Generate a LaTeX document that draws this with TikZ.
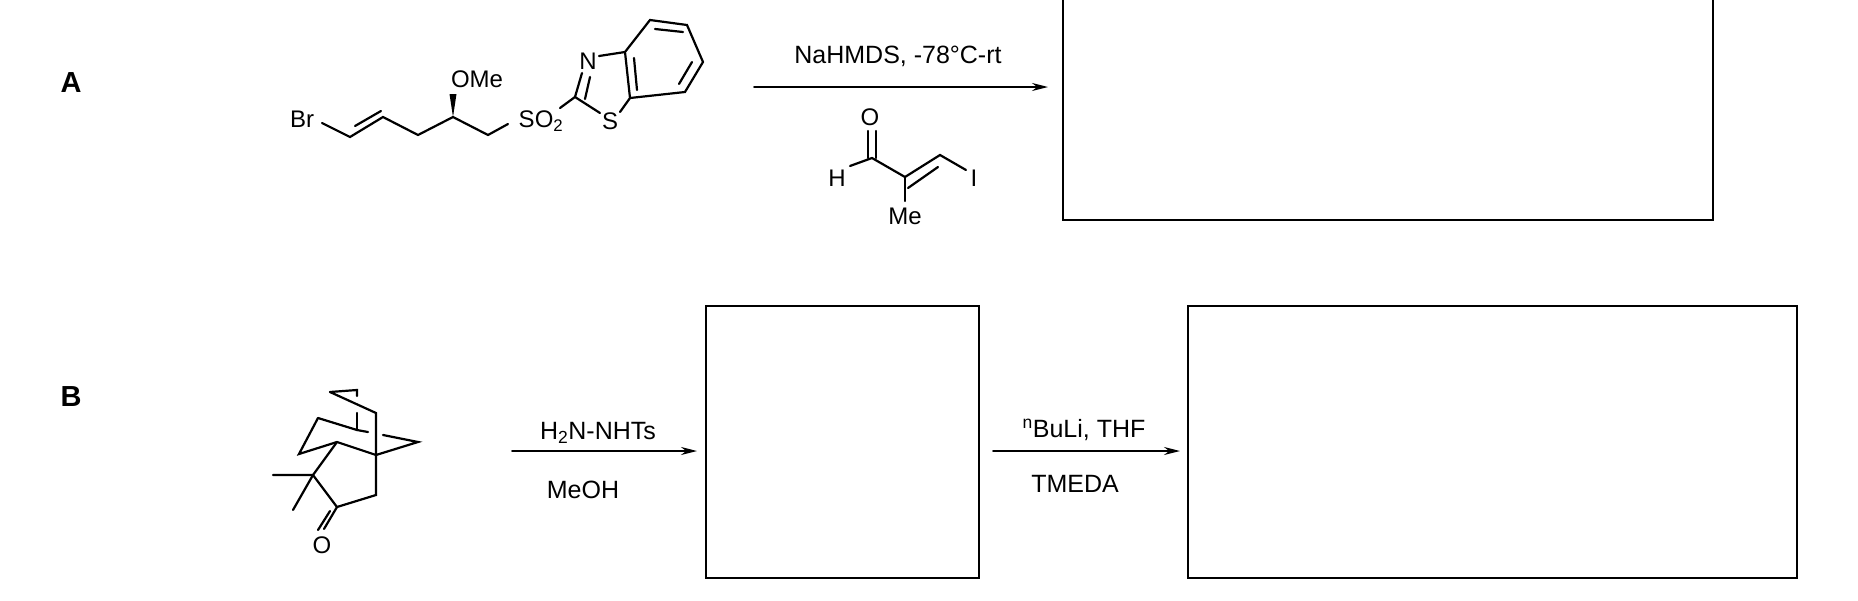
\documentclass[tikz,border=0pt]{standalone}
\usepackage{fontspec}
\setmainfont{Liberation Sans}
\usetikzlibrary{arrows.meta}
\begin{document}
\begin{tikzpicture}[x=1pt,y=-1pt,line width=2.2pt,line cap=round,
  lbl/.style={font=\fontsize{25}{29}\selectfont,inner sep=0pt},
  atom/.style={font=\fontsize{24}{28}\selectfont,inner sep=0pt},
  big/.style={font=\fontsize{29}{33}\selectfont\bfseries,inner sep=0pt},
  rxn/.style={line width=1.8pt,-{Stealth[length=16pt,width=8pt]}},
  box/.style={draw,line width=2.2pt}]
\useasboundingbox (0,0) rectangle (1858,600);
\node[big] (A) at (71,83) {A};
\node[big] (B) at (71,397) {B};
% ---- molecule A
\node[atom] (Br) at (302,119) {Br};
\draw (322,123) -- (350,137) -- (383,117) -- (418,135) -- (453,117) -- (488,135) -- (508,124);
\draw (355,126) -- (381,111);
\fill (453,117) -- (449.5,94) -- (456.5,94) -- cycle;
\node[atom] (OMe) at (477,79) {OMe};
\node[atom] (SO) at (541,121) {SO\textsubscript{2}};
\draw (560,108) -- (575,97) -- (600,113);
\draw (575,97) -- (582,73);
\draw (585,99) -- (590,77);
\node[atom] (N) at (588,61) {N};
\node[atom] (S) at (610,121) {S};
\draw (599,56) -- (625,52) -- (650,20) -- (687,25) -- (703,62) -- (685,92) -- (630,98) -- (625,52);
\draw (620,112) -- (630,98);
\draw (655,29) -- (683,32);
\draw (692,62) -- (679,84);
\draw (634,58) -- (637,90);
% ---- arrow A
\coordinate (a1) at (754,87); \coordinate (a2) at (1048,87);
\draw[rxn] (a1) -- (a2);
\node[lbl] (rA) at (898,56) {NaHMDS, -78°C-rt};
% aldehyde
\node[atom] (O2) at (870,117) {O};
\node[atom] (H) at (837,178) {H};
\node[atom] (I) at (974,178) {I};
\node[atom] (Me) at (905,216) {Me};
\draw (868,131) -- (868,158); \draw (876,131) -- (876,158);
\draw (850,166) -- (872,158) -- (905,177) -- (940,155) -- (966,170);
\draw (908,188) -- (938,167);
\draw (905,177) -- (905,201);
\node[box,minimum width=650pt,minimum height=230pt,anchor=south west] (bA) at (1062,221) {};
% ---- molecule B
\draw (330,392) -- (357,390) -- (357,396);
\draw (330,392) -- (376,413) -- (376,455);
\draw (357,413) -- (357,430);
\draw (318,418) -- (357,430) -- (368,432);
\draw (318,418) -- (299,454) -- (337,442) -- (376,455) -- (418,442) -- (383,435);
\draw (337,442) -- (313,475) -- (273,475);
\draw (313,475) -- (293,510);
\draw (313,475) -- (337,507) -- (376,495) -- (376,455);
\draw (337,507) -- (324,529); \draw (330,511) -- (318,530);
\node[atom] (O3) at (322,545) {O};
% arrows B
\coordinate (b1) at (512,451); \coordinate (b2) at (697,451);
\draw[rxn] (b1) -- (b2);
\node[lbl] (r1) at (598,433) {H\textsubscript{2}N-NHTs};
\node[lbl] (r2) at (583,490) {MeOH};
\node[box,minimum width=273pt,minimum height=272pt,anchor=north west] (bB1) at (705,305) {};
\coordinate (c1) at (993,451); \coordinate (c2) at (1180,451);
\draw[rxn] (c1) -- (c2);
\node[lbl] (r3) at (1084,430) {\textsuperscript{n}BuLi, THF};
\node[lbl] (r4) at (1075,484) {TMEDA};
\node[box,minimum width=609pt,minimum height=272pt,anchor=north west] (bB2) at (1187,305) {};
\end{tikzpicture}
\end{document}
